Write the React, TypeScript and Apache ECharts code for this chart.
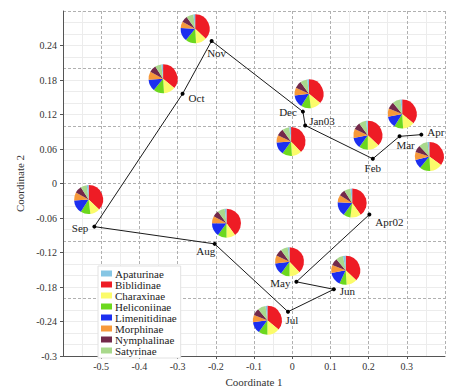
import React, { useEffect, useRef } from "react";
import * as echarts from "echarts";

// Ordination trajectory (Coordinate 1 / Coordinate 2)
const months = ["Apr02", "May", "Jun", "Jul", "Aug", "Sep", "Oct", "Nov", "Dec", "Jan03", "Feb", "Mar", "Apr"];
const coord1 = [0.202, 0.011, 0.109, -0.011, -0.203, -0.518, -0.287, -0.211, 0.028, 0.034, 0.211, 0.281, 0.338];
const coord2 = [-0.054, -0.171, -0.184, -0.223, -0.105, -0.075, 0.156, 0.248, 0.125, 0.101, 0.043, 0.082, 0.085];

// pie positions (data coordinates)
const pieX = [0.157, -0.007, 0.14, -0.065, -0.172, -0.533, -0.338, -0.254, 0.044, -0.003, 0.198, 0.288, 0.359];
const pieY = [-0.034, -0.136, -0.151, -0.238, -0.069, -0.028, 0.182, 0.269, 0.156, 0.073, 0.084, 0.121, 0.047];

// subfamily composition per month (%)
const subfamilies = ["Apaturinae", "Biblidinae", "Charaxinae", "Heliconiinae", "Limenitidinae", "Morphinae", "Nymphalinae", "Satyrinae"];
const Apaturinae = [2, 2, 3, 2, 2, 2, 2, 2, 2, 2, 2, 2, 2];
const Biblidinae = [40, 38, 37, 36, 40, 37, 36, 37, 36, 38, 37, 36, 35];
const Charaxinae = [12, 12, 12, 14, 10, 11, 13, 12, 12, 11, 13, 13, 14];
const Heliconiinae = [8, 10, 8, 10, 10, 11, 12, 12, 11, 11, 10, 10, 12];
const Limenitidinae = [16, 13, 15, 13, 15, 15, 13, 15, 14, 14, 12, 13, 10];
const Morphinae = [8, 9, 9, 8, 8, 9, 9, 7, 9, 8, 10, 9, 9];
const Nymphalinae = [7, 8, 8, 8, 7, 8, 8, 7, 8, 8, 8, 8, 8];
const Satyrinae = [7, 8, 8, 9, 8, 7, 7, 8, 8, 8, 8, 9, 10];

const subColors: Record<string, string> = {
  Apaturinae: "#86c6e4",
  Biblidinae: "#ee1c25",
  Charaxinae: "#fbfb6a",
  Heliconiinae: "#6cd81e",
  Limenitidinae: "#1c2ff0",
  Morphinae: "#f7993a",
  Nymphalinae: "#73294a",
  Satyrinae: "#a9d98c",
};
const subValues: Record<string, number[]> = {
  Apaturinae, Biblidinae, Charaxinae, Heliconiinae, Limenitidinae, Morphinae, Nymphalinae, Satyrinae,
};
// drawing order clockwise from 12 o'clock
const pieOrder = ["Biblidinae", "Charaxinae", "Heliconiinae", "Limenitidinae", "Morphinae", "Nymphalinae", "Satyrinae", "Apaturinae"];

const labelPos: any[] = [
  { position: "right", offset: [0, 7] },
  { position: "left", offset: [0, 1] },
  { position: "right", offset: [0, 2] },
  { position: "bottom", offset: [4, -3] },
  { position: "bottom", offset: [-9, -4] },
  { position: "left", offset: [0, 1] },
  { position: "right", offset: [0, 4] },
  { position: "bottom", offset: [5, 1] },
  { position: "left", offset: [0, 0] },
  { position: "right", offset: [-2, -4] },
  { position: "bottom", offset: [0, -2] },
  { position: "bottom", offset: [6, -3] },
  { position: "right", offset: [0, -3] },
];

const FONT = "'Liberation Serif', 'DejaVu Serif', serif";

export default function App() {
  const ref = useRef<HTMLDivElement>(null);
  useEffect(() => {
    if (!ref.current) return;
    const chart = echarts.init(ref.current, undefined, { renderer: "svg" });
    const lineSeries = {
      type: "line",
      xAxisIndex: 0,
      yAxisIndex: 0,
      data: months.map((m, i) => ({
        value: [coord1[i], coord2[i]],
        name: m,
        label: { show: true, formatter: m, ...labelPos[i] },
      })),
      lineStyle: { color: "#1a1a1a", width: 1 },
      itemStyle: { color: "#000" },
      symbol: "circle",
      symbolSize: 4,
      showSymbol: true,
      label: { show: true, fontFamily: FONT, fontSize: 11, color: "#222", distance: 4 },
      z: 3,
      silent: true,
    };
    const base: any = {
      animation: false,
      backgroundColor: "#fff",
      textStyle: { fontFamily: FONT },
      grid: { left: 63, right: 29, top: 11, bottom: 31, containLabel: false },
      xAxis: [
        {
          type: "value",
          min: -0.6,
          max: 0.4,
          interval: 0.1,
          name: "Coordinate 1",
          nameLocation: "middle",
          nameGap: 20,
          nameTextStyle: { fontFamily: FONT, fontSize: 11, color: "#333" },
          axisLine: { show: true, onZero: false, lineStyle: { color: "#555", width: 1 } },
          axisTick: { show: true, length: 3, lineStyle: { color: "#555" } },
          axisLabel: {
            fontFamily: FONT, fontSize: 10, color: "#333", margin: 5,
            showMinLabel: false, showMaxLabel: false,
            formatter: (v: number) => String(Math.round(v * 10) / 10),
          },
          splitLine: { show: true, lineStyle: { color: "#b0b0b0", type: [3, 2], width: 1 } },
          minorTick: { show: false, splitNumber: 2 },
          minorSplitLine: { show: true, lineStyle: { color: "#ececec", width: 1 } },
        },
      ],
      yAxis: [
        {
          type: "value",
          min: -0.3,
          max: 0.3,
          interval: 0.06,
          name: "Coordinate 2",
          nameLocation: "middle",
          nameGap: 34,
          nameRotate: 90,
          nameTextStyle: { fontFamily: FONT, fontSize: 11, color: "#333" },
          axisLine: { show: true, onZero: false, lineStyle: { color: "#555", width: 1 } },
          axisTick: { show: true, length: 3, lineStyle: { color: "#555" } },
          axisLabel: {
            fontFamily: FONT, fontSize: 10, color: "#333", margin: 6,
            showMaxLabel: false,
            formatter: (v: number) => String(Math.round(v * 100) / 100),
          },
          splitLine: { show: false },
        },
        {
          type: "value",
          min: -0.3,
          max: 0.3,
          interval: 0.1,
          position: "left",
          axisLine: { show: false },
          axisTick: { show: false },
          axisLabel: { show: false },
          splitLine: { show: true, lineStyle: { color: "#b0b0b0", type: [3, 2], width: 1 } },
          minorTick: { show: false, splitNumber: 5 },
          minorSplitLine: { show: true, lineStyle: { color: "#ececec", width: 1 } },
        },
      ],
      legend: {
        orient: "vertical",
        left: 98,
        top: 266,
        data: subfamilies,
        icon: "rect",
        itemWidth: 11,
        itemHeight: 6,
        itemGap: 0,
        padding: [2, 4, 2, 3],
        backgroundColor: "#fff",
        borderColor: "#e2e2e2",
        borderWidth: 1,
        textStyle: { fontFamily: FONT, fontSize: 11, color: "#222", lineHeight: 9.5, padding: [0, 0, 0, -2] },
        selectedMode: false,
      },
      series: [lineSeries],
    };
    chart.setOption(base);

    const pies = months.map((m, i) => {
      const c = chart.convertToPixel({ xAxisIndex: 0, yAxisIndex: 0 } as any, [pieX[i], pieY[i]]) as number[];
      return {
        type: "pie",
        name: m,
        center: [c[0], c[1]],
        radius: 14.5,
        startAngle: 90,
        clockwise: true,
        label: { show: false },
        labelLine: { show: false },
        silent: true,
        itemStyle: { borderWidth: 0 },
        z: 4,
        data: pieOrder.map((s) => ({
          name: s,
          value: subValues[s][i],
          itemStyle: { color: subColors[s] },
        })),
      };
    });
    chart.setOption({ series: [lineSeries, ...pies] });

    return () => chart.dispose();
  }, []);
  return (
    <div
      ref={ref}
      style={{ position: "fixed", left: 0, top: 0, width: 474, height: 392 }}
    />
  );
}
